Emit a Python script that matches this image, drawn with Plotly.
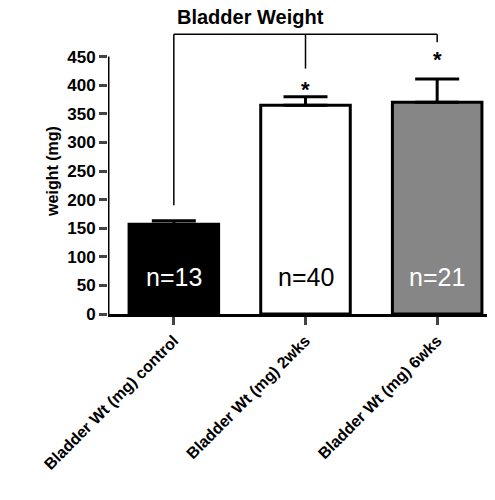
import plotly.graph_objects as go

categories = ["Bladder Wt (mg) control", "Bladder Wt (mg) 2wks", "Bladder Wt (mg) 6wks"]
means = [157, 365, 370]
errors = [6, 15, 41]
n_labels = ["n=13", "n=40", "n=21"]
colors = ["#000000", "#ffffff", "#868686"]
n_colors = ["white", "black", "white"]
ticks = [0, 50, 100, 150, 200, 250, 300, 350, 400, 450]

x = [0, 1, 2]
fig = go.Figure(go.Bar(
    x=x, y=means, width=0.68,
    marker=dict(color=colors, line=dict(color="black", width=3)),
    error_y=dict(type="data", array=errors, arrayminus=[0, 0, 0], symmetric=False,
                 color="black", thickness=3, width=22),
))
for i in x:
    fig.add_annotation(x=i, y=65, text=n_labels[i], showarrow=False,
                       font=dict(size=25, color=n_colors[i], family="Liberation Sans"))
fig.add_shape(type="line", x0=-0.5, x1=-0.5, y0=0, y1=450, xref="x", yref="y",
              line=dict(color="black", width=3))
br = 489
for xs, yb in [(0, 190), (1, 429), (2, 475)]:
    fig.add_shape(type="line", x0=xs, x1=xs, y0=yb, y1=br, line=dict(color="black", width=1.5))
fig.add_shape(type="line", x0=0, x1=2, y0=br, y1=br, line=dict(color="black", width=1.5))
for xs, ys in [(1, 393), (2, 445)]:
    fig.add_annotation(x=xs, y=ys, text="<b>*</b>", showarrow=False,
                       font=dict(size=22, color="black", family="Liberation Sans"))
fig.add_annotation(x=0.36, xref="paper", y=1.0, yref="paper", yanchor="top", yshift=24,
                   text="<b>Bladder Weight</b>", showarrow=False,
                   font=dict(size=20, color="black", family="Liberation Sans"))

fig.update_layout(
    width=495, height=500, margin=dict(l=100, r=0, t=20, b=194),
    plot_bgcolor="white", paper_bgcolor="white", showlegend=False,
    font=dict(family="Liberation Sans", color="black"),
    xaxis=dict(range=[-0.5, 2.5], tickvals=x, ticktext=["<b>%s</b>" % c for c in categories],
               tickangle=-45, showline=True, linecolor="black", linewidth=3,
               ticks="outside", ticklen=8, tickwidth=3, tickfont=dict(size=16)),
    yaxis=dict(range=[0, 500], tickvals=ticks, ticktext=["<b>%d</b>" % t for t in ticks],
               showgrid=False, zeroline=False, showline=False,
               ticks="outside", ticklen=8, tickwidth=3, tickfont=dict(size=17),
               title=dict(text="<b>weight (mg)</b>", font=dict(size=16), standoff=4)),
)
fig.write_html("out.html")
